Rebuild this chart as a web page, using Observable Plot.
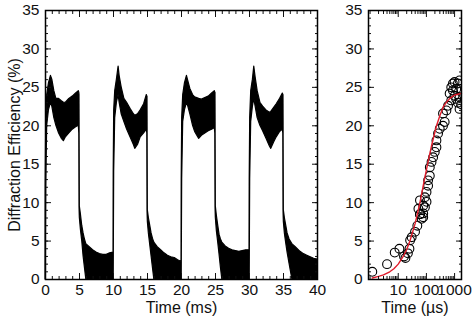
<!DOCTYPE html>
<html><head><meta charset="utf-8">
<script src="https://cdn.jsdelivr.net/npm/d3@7"></script>
<script src="https://cdn.jsdelivr.net/npm/@observablehq/plot@0.6"></script>
<style>
html,body{margin:0;padding:0;background:#fff;}
#chart{position:relative;width:474px;height:327px;overflow:hidden;background:#fff;}
#chart svg{position:absolute;top:0;}
</style></head><body><div id="chart"></div>
<script>
// Left panel: envelope (min / max) of the noisy diffraction-efficiency trace
const timeMs = [0,0.03,0.1,0.25,0.5,0.8,1.0,1.3,1.6,2.0,2.4,2.7,3.0,3.5,4.0,4.5,4.9,4.97,
  5.0,5.05,5.2,5.4,5.6,5.8,6.0,6.5,7.0,7.5,8.0,8.5,9.0,9.5,9.97,
  10.0,10.03,10.1,10.25,10.5,10.75,10.9,11.2,11.6,12.0,12.5,13.0,13.2,13.6,14.0,14.5,14.9,14.97,
  15.0,15.05,15.2,15.4,15.6,15.8,16.0,16.5,17.0,17.5,18.0,18.5,19.0,19.5,19.97,
  20.0,20.03,20.1,20.25,20.5,20.8,21.0,21.3,21.7,22.0,22.6,23.0,23.5,24.0,24.5,24.9,24.97,
  25.0,25.05,25.2,25.4,25.6,25.8,26.0,26.5,27.0,27.5,28.0,28.5,29.0,29.5,29.97,
  30.0,30.03,30.1,30.25,30.5,30.7,30.9,31.2,31.6,32.0,32.5,33.0,33.2,33.6,34.0,34.5,34.9,34.97,
  35.0,35.05,35.2,35.4,35.6,35.9,36.3,36.8,37.5,38.0,38.5,39.0,39.5,40.0];
const effLow = [0,0,12,20,22,23,22.5,21,20,19,18.3,18,18.5,19,19.5,19.8,20,19,
  9.5,8,6.5,5,3,1.5,0,0,0,0,0,0,0,0,0,
  0,0,14,21,23,24,23,21.5,20.5,19.5,18.5,17.5,17,17.5,18.5,19,19.5,19,
  9,7.5,6,4.5,3,1.5,0,0,0,0,0,0,0,0,0,
  0,0,13,20.5,22,23,22.5,21.5,20,19.2,18.3,18.7,19,19.3,19.5,19.7,19,
  9.5,8,6.3,4.8,3.2,1.5,0,0,0,0,0,0,0,0,0,
  0,0,13,20.5,22.5,23.5,22.5,21,20,19.3,18.3,17.3,17,17.8,18.5,19.2,19.5,19,
  9,7.5,6,4.7,3.5,2,0,0,0,0,0,0,0,0];
const effHigh = [0,12,20,24,25.5,26.5,26,24.5,23.5,23.5,23.2,23,23,23.5,23.8,24.2,24.5,24.3,
  24,9.5,8.5,7,6,5.2,4.6,4.2,3.8,3.5,3.3,3.2,3.2,3.4,3.5,
  3.5,14,22,24.5,26,27.7,26.5,25,23.5,23,22.2,21.5,21.3,21.5,22,22.8,24,23.8,
  23.8,9,8,7,6,5.3,4.8,4.2,3.8,3.4,3.1,2.9,2.8,2.5,2.3,
  2.3,13,21,24,25.5,26.5,25.8,24.8,24,23.7,23.5,23.4,23.6,23.8,24.2,24.5,24.3,
  24.3,9.5,8.3,7,5.8,5.2,4.8,4.3,4.0,3.8,3.7,3.6,3.7,3.8,3.8,
  3.8,13,21,24.5,26,27.7,26.3,24.5,23,22.5,22,21.7,21.8,22.3,22.8,23.5,24.2,24,
  24,9,8,7,6,5.2,4.6,4.2,3.6,3.3,3.1,2.9,2.7,2.6];

// Right panel: rise on a log time axis (µs)
const riseTimeUs = [1.2,4,7.5,11,16,18,22,25,26.4,30,39.5,47.6,59,67.8,77,88.5,101,
  77,59,52,77,59,88,101,115,115,132,132,152,173,198,227,227,259,297,388,
  445,388,513,587,761,1000,872,1144,1310,1000,1500,1710,1500,1310,1710,1144,1500,667,761,872];
const riseEff = [1.0,2.0,3.5,4.0,3.0,2.8,3.4,4.0,5.1,5.5,6.2,7.0,8.5,7.9,8.6,9.4,10.1,
  8.1,8.5,9.2,9.6,10.3,10.7,11.4,12.2,12.9,13.5,14.6,15.3,15.9,16.6,17.2,18.1,19.0,19.6,20.0,
  20.5,21.6,22.0,22.6,23.3,23.9,24.6,24.8,25.5,25.7,25.9,24.8,23.7,23.0,22.8,23.5,22.2,24.2,25.0,25.5];
const fitTimeUs = [1.2,2,3,5,7,10,15,20,26,40,59,80,110,150,228,300,400,550,700,1000,1300,1760];
const fitEff = [0.2,0.4,0.6,1.0,1.4,2.0,3.0,3.9,5.0,7.3,10.0,12.5,15.0,17.3,20.0,21.3,22.5,23.2,23.6,24.0,24.1,24.2];

const yTicks = [0,5,10,15,20,25,30,35];
const yMinor = d3.range(0,36,1);
const xTicksMs = [0,5,10,15,20,25,30,35,40];
const xMinorMs = d3.range(0,41,1);
const xTicksUs = [10,100,1000];
const xMinorUs = [1,2,3,4,5,6,7,8,9,20,30,40,50,60,70,80,90,200,300,400,500,600,700,800,900];

const trace = timeMs.map((t,i)=>({t, lo: effLow[i], hi: effHigh[i]}));
const rise = riseTimeUs.map((t,i)=>({t, e: riseEff[i]}));
const fit = fitTimeUs.map((t,i)=>({t, e: fitEff[i]}));

const font = {fontFamily: "'Liberation Sans', Arial, Helvetica, sans-serif", fontSize: "15px", color: "#111", background: "transparent"};
const blank = () => "";
const plain = d => String(d);

function frameAxes(xMajor, xMinor, yMajor, yMinor) {
  return [
    Plot.axisX(xMinor, {anchor: "bottom", tickSize: -3, tickFormat: blank, label: null}),
    Plot.axisX(xMinor, {anchor: "top", tickSize: -3, tickFormat: blank, label: null}),
    Plot.axisX(xMajor, {anchor: "bottom", tickSize: -6, tickFormat: blank, label: null}),
    Plot.axisX(xMajor, {anchor: "top", tickSize: -6, tickFormat: blank, label: null}),
    Plot.axisX(xMajor, {anchor: "bottom", tickSize: 0, tickPadding: 4, tickFormat: plain, label: null, fontSize: 15.5}),
    Plot.axisY(yMinor, {anchor: "left", tickSize: -3, tickFormat: blank, label: null}),
    Plot.axisY(yMinor, {anchor: "right", tickSize: -3, tickFormat: blank, label: null}),
    Plot.axisY(yMajor, {anchor: "left", tickSize: -6, tickFormat: blank, label: null}),
    Plot.axisY(yMajor, {anchor: "right", tickSize: -6, tickFormat: blank, label: null}),
    Plot.axisY(yMajor, {anchor: "left", tickSize: 0, tickPadding: 6, tickFormat: plain, label: null, fontSize: 15.5}),
    Plot.frame({stroke: "black", strokeWidth: 1.5})
  ];
}

const left = Plot.plot({
  width: 330, height: 327,
  marginLeft: 45, marginRight: 13, marginTop: 10, marginBottom: 48,
  style: font,
  x: {domain: [0, 40], label: null},
  y: {domain: [0, 35], label: null},
  marks: [
    Plot.areaY(trace, {x: "t", y1: "lo", y2: "hi", fill: "black", stroke: "black", strokeWidth: 1.2}),
    ...frameAxes(xTicksMs, xMinorMs, yTicks, yMinor),
    Plot.text(["Time (ms)"], {frameAnchor: "bottom", dy: 33, fontSize: 16}),
    Plot.text(["Diffraction Efficiency (%)"], {frameAnchor: "left", textAnchor: "middle", dx: -31, rotate: -90, fontSize: 16})
  ]
});
left.style.left = "0px";

const right = Plot.plot({
  width: 144, height: 327,
  marginLeft: 38, marginRight: 13, marginTop: 10, marginBottom: 48,
  style: font,
  x: {type: "log", domain: [0.88, 1760], label: null},
  y: {domain: [0, 35], label: null},
  marks: [
    Plot.dot(rise, {x: "t", y: "e", r: 4.4, stroke: "black", strokeWidth: 1.1, fill: "none", clip: true}),
    Plot.line(fit, {x: "t", y: "e", stroke: "#e01b2a", strokeWidth: 1.4}),
    ...frameAxes(xTicksUs, xMinorUs, yTicks, yMinor),
    Plot.text(["Time (µs)"], {frameAnchor: "bottom", dy: 33, fontSize: 16})
  ]
});
right.style.left = "330px";

const chart = document.getElementById("chart");
chart.append(left, right);
</script>
</body></html>
